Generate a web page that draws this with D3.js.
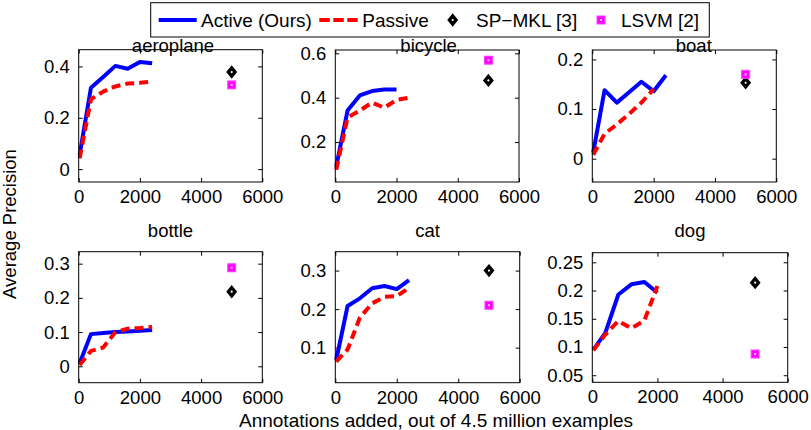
<!DOCTYPE html>
<html>
<head>
<meta charset="utf-8">
<script src="https://cdn.jsdelivr.net/npm/d3@7"></script>
<style>
  body { margin: 0; background: #fff; }
  svg { display: block; font-family: "Liberation Sans", Arial, Helvetica, sans-serif; }
</style>
</head>
<body>
<svg id="chart" width="811" height="430"></svg>
<script>
// ---------- data ----------
const categories = ["aeroplane", "bicycle", "boat", "bottle", "cat", "dog"];
const annotations = [30, 400, 800, 1200, 1600, 2000, 2400];

const activeAP = [
  [0.055, 0.317, 0.359, 0.402, 0.391, 0.417, 0.412],
  [0.090, 0.342, 0.410, 0.430, 0.437, 0.437],
  [0.012, 0.138, 0.113, 0.134, 0.155, 0.136, 0.168],
  [0.009, 0.094, 0.097, 0.100, 0.102, 0.104, 0.106],
  [0.068, 0.208, 0.228, 0.254, 0.260, 0.252, 0.275],
  [0.095, 0.125, 0.193, 0.211, 0.215, 0.196]
];
const passiveAP = [
  [0.042, 0.272, 0.302, 0.322, 0.333, 0.336, 0.341],
  [0.075, 0.310, 0.342, 0.378, 0.355, 0.390, 0.400],
  [0.008, 0.050, 0.069, 0.090, 0.113, 0.140],
  [0.004, 0.045, 0.055, 0.100, 0.110, 0.112, 0.115],
  [0.064, 0.095, 0.178, 0.215, 0.232, 0.234, 0.255],
  [0.094, 0.122, 0.146, 0.133, 0.147, 0.208]
];
const baselineX = 5000;
const spmklAP = [0.378, 0.478, 0.153, 0.218, 0.300, 0.214];
const lsvmAP  = [0.328, 0.569, 0.170, 0.288, 0.210, 0.0876];

const xTicks = [0, 2000, 4000, 6000];
const yTicks = [
  [0, 0.2, 0.4],
  [0.2, 0.4, 0.6],
  [0, 0.1, 0.2],
  [0, 0.1, 0.2, 0.3],
  [0.1, 0.2, 0.3],
  [0.05, 0.1, 0.15, 0.2, 0.25]
];
const yDomains = [
  [-0.05, 0.465],
  [0.02, 0.615],
  [-0.047, 0.219],
  [-0.048, 0.335],
  [0.009, 0.349],
  [0.0375, 0.267]
];
const legendLabels = ["Active (Ours)", "Passive", "SP\u2212MKL [3]", "LSVM [2]"];
const xLabel = "Annotations added, out of 4.5 million examples";
const yLabel = "Average Precision";

// ---------- layout ----------
const panels = [
  {x0: 78.7,  x1: 262.3, y0: 49.7,  y1: 182,   titleY: 52,  titleDx: 2.5},
  {x0: 335.3, x1: 519,   y0: 50,    y1: 182,   titleY: 52,  titleDx: 1.5},
  {x0: 592.3, x1: 776.3, y0: 50,    y1: 182,   titleY: 51.5, titleDx: 9.5},
  {x0: 78.7,  x1: 262.3, y0: 251.7, y1: 382.7, titleY: 237, titleDx: 0},
  {x0: 335.3, x1: 519.7, y0: 251.7, y1: 382.7, titleY: 237, titleDx: 0},
  {x0: 592.3, x1: 787.7, y0: 252.7, y1: 382.3, titleY: 237, titleDx: 0}
];
const BLUE = "#0000ff", RED = "#ff0000", MAGENTA = "#ff00ff";
const FS = 18.5;
const fmt = v => (v === 0 ? "0" : String(+v.toFixed(2)));

const svg = d3.select("#chart");

function diamond(g, cx, cy) {
  g.append("path")
    .attr("d", `M${cx},${cy - 5.5} L${cx + 4.5},${cy} L${cx},${cy + 5.5} L${cx - 4.5},${cy} Z`)
    .attr("fill", "#000").attr("stroke", "#000").attr("stroke-width", 1.5)
    .attr("stroke-linejoin", "miter");
  g.append("circle").attr("cx", cx).attr("cy", cy).attr("r", 1.1).attr("fill", "#fff");
}
function square(g, cx, cy) {
  g.append("rect")
    .attr("x", cx - 4).attr("y", cy - 4).attr("width", 8).attr("height", 8)
    .attr("fill", MAGENTA).attr("stroke", "#ff40ff").attr("stroke-width", 1);
  g.append("rect").attr("x", cx - 1).attr("y", cy - 1).attr("width", 2).attr("height", 2)
    .attr("fill", "#ffd0ff");
}

categories.forEach((cat, i) => {
  const p = panels[i];
  const x = d3.scaleLinear().domain([0, 6000]).range([p.x0, p.x1]);
  const y = d3.scaleLinear().domain(yDomains[i]).range([p.y1, p.y0]);
  const g = svg.append("g");

  g.append("rect").attr("x", p.x0).attr("y", p.y0)
    .attr("width", p.x1 - p.x0).attr("height", p.y1 - p.y0)
    .attr("fill", "#fff");

  // axes (MATLAB-like inward ticks on all sides)
  const bottom = d3.axisBottom(x).tickValues(xTicks).tickSize(-4).tickPadding(8).tickFormat(d3.format("d"));
  const top = d3.axisTop(x).tickValues(xTicks).tickSize(-4).tickFormat("");
  const left = d3.axisLeft(y).tickValues(yTicks[i]).tickSize(-4).tickPadding(9).tickFormat(fmt);
  const right = d3.axisRight(y).tickValues(yTicks[i]).tickSize(-4).tickFormat("");

  [[bottom, `translate(0,${p.y1})`], [top, `translate(0,${p.y0})`],
   [left, `translate(${p.x0},0)`], [right, `translate(${p.x1},0)`]].forEach(([ax, tr]) => {
    const a = g.append("g").attr("transform", tr).call(ax);
    a.select(".domain").remove();
    a.selectAll("line").attr("stroke", "#000").attr("stroke-width", 1);
    a.selectAll("text").attr("fill", "#000").style("font-size", FS + "px")
      .style("font-family", "'Liberation Sans', Arial, Helvetica, sans-serif");
  });

  const line = d3.line().x((d, k) => x(annotations[k])).y(d => y(d));
  g.append("path").datum(activeAP[i]).attr("d", line)
    .attr("fill", "none").attr("stroke", BLUE).attr("stroke-width", 4)
    .attr("stroke-linejoin", "round");
  g.append("path").datum(passiveAP[i]).attr("d", line)
    .attr("fill", "none").attr("stroke", RED).attr("stroke-width", 4)
    .attr("stroke-dasharray", "9,5").attr("stroke-linejoin", "round");

  diamond(g, x(baselineX), y(spmklAP[i]));
  square(g, x(baselineX), y(lsvmAP[i]));

  g.append("rect").attr("x", p.x0).attr("y", p.y0)
    .attr("width", p.x1 - p.x0).attr("height", p.y1 - p.y0)
    .attr("fill", "none").attr("stroke", "#000").attr("stroke-width", 1);

  g.append("text").attr("x", (p.x0 + p.x1) / 2 + p.titleDx).attr("y", p.titleY)
    .attr("text-anchor", "middle").style("font-size", FS + "px").text(cat);
});

// axis labels
svg.append("text").attr("x", 436).attr("y", 427).attr("text-anchor", "middle")
  .style("font-size", "19px").text(xLabel);
svg.append("text").attr("transform", "translate(16,224) rotate(-90)")
  .attr("text-anchor", "middle").style("font-size", "18.5px").text(yLabel);

// legend
const lg = svg.append("g");
lg.append("rect").attr("x", 150.7).attr("y", 2.7).attr("width", 558.6).attr("height", 34.3)
  .attr("fill", "#fff").attr("stroke", "#000").attr("stroke-width", 1);
const ly = 20;
lg.append("line").attr("x1", 158.7).attr("x2", 196.7).attr("y1", ly).attr("y2", ly)
  .attr("stroke", BLUE).attr("stroke-width", 4);
lg.append("line").attr("x1", 319.3).attr("x2", 357.7).attr("y1", ly).attr("y2", ly)
  .attr("stroke", RED).attr("stroke-width", 4).attr("stroke-dasharray", "10.5,3.5");
diamond(lg, 452.7, ly);
square(lg, 601, ly);
const lx = [201, 362.3, 476, 621];
legendLabels.forEach((t, k) => {
  lg.append("text").attr("x", lx[k]).attr("y", ly + 7).style("font-size", "19px").text(t);
});
</script>
</body>
</html>
